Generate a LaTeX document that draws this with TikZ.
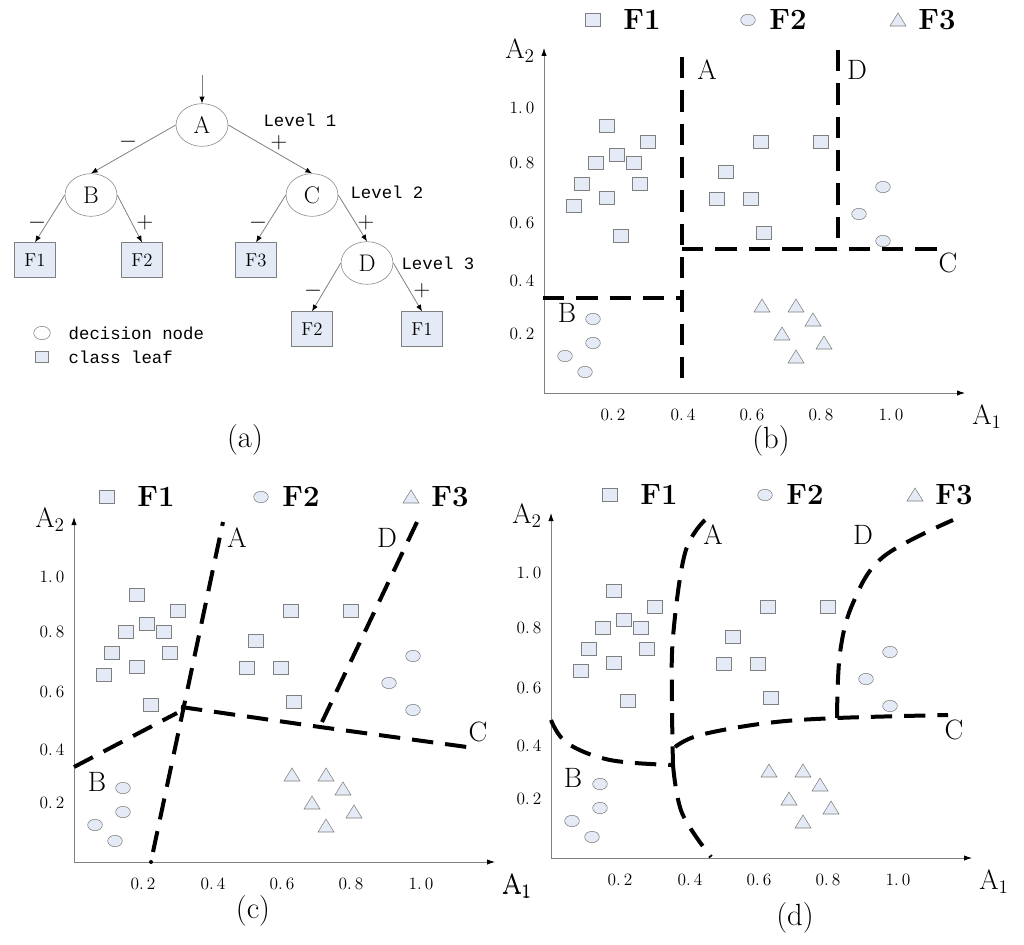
\documentclass[tikz,border=0pt]{standalone}
\usepackage{fontspec}
\newfontfamily\monof{Liberation Mono}
\usetikzlibrary{shapes.geometric,arrows.meta}
\definecolor{leaf}{HTML}{E4EBF6}
\definecolor{edgeg}{HTML}{808080}
\tikzset{
  dnode/.style={ellipse,draw=edgeg,minimum width=39pt,minimum height=32pt,inner sep=0,font=\fontsize{18}{18}\selectfont},
  cleaf/.style={rectangle,draw=edgeg,fill=leaf,minimum width=31pt,minimum height=26pt,inner sep=0,font=\fontsize{14}{14}\selectfont},
  tedge/.style={draw=edgeg,line width=0.6pt,-{Latex[length=5pt,width=4pt,color=black]}},
  sgn/.style={font=\fontsize{16}{16}\selectfont},
  lvl/.style={font=\monof\fontsize{13}{13}\selectfont},
  sq/.style={rectangle,draw=edgeg,fill=leaf,minimum width=11.5pt,minimum height=10pt,inner sep=0},
  ci/.style={ellipse,draw=edgeg,fill=leaf,minimum width=11pt,minimum height=8.5pt,inner sep=0},
  tri/.style={draw=edgeg,fill=leaf},
  bnd/.style={line width=3pt,dash pattern=on 16pt off 9pt,line cap=butt},
  blab/.style={font=\fontsize{21}{21}\selectfont},
  tick/.style={font=\fontsize{13}{13}\selectfont},
  leg/.style={font=\bfseries\fontsize{22}{22}\selectfont},
  axis/.style={draw=gray,line width=0.6pt,-{Latex[length=6pt,width=4pt,color=black]}},
  plab/.style={font=\fontsize{23}{23}\selectfont}
}
\newcommand{\myplot}{%
  \draw[axis] (0,0) -- (0,-345);
  \draw[axis] (0,0) -- (421,0);
  \foreach \x/\a/\b in {69/0/2,139/0/4,208/0/6,277/0/8,347/1/0}
    \node[tick] at (\x,22) {\a.\,\b};
  \foreach \y/\a/\b in {-285/1/0,-230/0/8,-170/0/6,-112/0/4,-59/0/2}
    \node[tick] at (-22,\y) {\a.\,\b};
  \node[blab] (a2) at (-24,-342) {A$_2$};
  \node[blab] (a1) at (443,24) {A$_1$};
  \foreach \x/\y in {63/-267,104/-251,52/-230,73/-238,90/-230,38/-209,96/-209,63/-195,30/-187,77/-157,217/-251,277/-251,182/-221,173/-194,207/-194,220/-160}
    \node[sq] at (\x,\y) {};
  \foreach \x/\y in {339/-206,315/-179,339/-152,49/-74,49/-50,21/-37,41/-21}
    \node[ci] at (\x,\y) {};
  \foreach \x/\y in {218/-87,252/-87,269/-73,238/-59,280/-50,252/-36}
    \draw[tri] (\x-8,\y+6) -- (\x+8,\y+6) -- (\x,\y-7) -- cycle;
}
\newcommand{\legend}[3]{%
  \node[sq] at (#1,#3) {};
  \node[leg] at (#1+49,#3) {F1};
  \node[ci] at (#2,#3) {};
  \node[leg] at (#2+40,#3) {F2};
  \draw[tri] (#2+142,#3+6) -- (#2+158,#3+6) -- (#2+150,#3-7) -- cycle;
  \node[leg] at (#2+189,#3) {F3};
}
\begin{document}
\begin{tikzpicture}[x=0.75pt,y=-0.75pt]
\useasboundingbox[fill=white] (0,0) rectangle (1024,945);
% ---------- (a) tree
\coordinate (top) at (202,75);
\node[dnode] (A) at (202,125) {A};
\node[dnode] (B) at (91,195) {B};
\node[dnode] (C) at (312,195) {C};
\node[dnode] (D) at (367,263) {D};
\node[cleaf] (f1a) at (35,260) {F1};
\node[cleaf] (f2a) at (142,260) {F2};
\node[cleaf] (f3a) at (256,260) {F3};
\node[cleaf] (f2b) at (312,329) {F2};
\node[cleaf] (f1b) at (422,329) {F1};
\draw[tedge] (top) -- (A.north);
\draw[tedge] (A.west) -- (B.north);
\draw[tedge] (A.east) -- (C.north);
\draw[tedge] (B.west) -- (f1a.north);
\draw[tedge] (B.east) -- (f2a.north);
\draw[tedge] (C.west) -- (f3a.north);
\draw[tedge] (C.east) -- (D.north);
\draw[tedge] (D.west) -- (f2b.north);
\draw[tedge] (D.east) -- (f1b.north);
\node[sgn] at (128,142) {$-$};
\node[sgn] at (279,143) {$+$};
\node[sgn] at (37,223) {$-$};
\node[sgn] at (145,223) {$+$};
\node[sgn] at (258,223) {$-$};
\node[sgn] at (366,223) {$+$};
\node[sgn] at (313,291) {$-$};
\node[sgn] at (422,291) {$+$};
\node[lvl] at (300,120) {Level 1};
\node[lvl] at (387,192) {Level 2};
\node[lvl] at (438,263) {Level 3};
\node[ellipse,draw=edgeg,minimum width=12.5pt,minimum height=10pt,inner sep=0] (lg1) at (42,333) {};
\node[rectangle,draw=edgeg,fill=leaf,minimum width=9.5pt,minimum height=8pt,inner sep=0] (lg2) at (42,357) {};
\node[lvl,anchor=west] at (64,333) {decision node};
\node[lvl,anchor=west] at (64,357) {class leaf};
\node[plab] at (245,440) {(a)};
% ---------- (b)
\legend{593}{748}{20}
\begin{scope}[shift={(544,393)}]
\myplot
\draw[bnd] (138,-336) -- (138,-10);
\draw[bnd] (294,-343) -- (294,-143);
\draw[bnd] (138,-144) -- (394,-144);
\draw[bnd] (-1,-95) -- (138,-95);
\node[blab] at (163,-323) {A};
\node[blab] at (313,-323) {D};
\node[blab] at (404,-130) {C};
\node[blab] at (23,-80) {B};
\end{scope}
\node[plab] at (771,441) {(b)};
% ---------- (c)
\legend{107}{261}{497}
\begin{scope}[shift={(74,862)}]
\myplot
\fill (77,0) circle (1.5pt);
\draw[bnd] (79,-10) -- (149,-340);
\draw[bnd] (0,-95) -- (103,-149);
\draw[bnd] (107,-155) -- (246,-135) -- (393,-115);
\draw[bnd] (248,-140) -- (343,-340);
\node[blab] at (163,-324) {A};
\node[blab] at (313,-324) {D};
\node[blab] at (404,-130) {C};
\node[blab] at (23,-80) {B};
\end{scope}
\node[plab] at (253,911) {(c)};
% ---------- (d)
\legend{610}{765}{495}
\begin{scope}[shift={(551,858)}]
\myplot
\node[blab] at (-34,29) {A$_1$};
\draw[bnd] plot[smooth,tension=0.6] coordinates {(154,-338) (134,-305) (122,-221) (121,-155) (122,-93)};
\draw[bnd] plot[smooth,tension=0.6] coordinates {(122,-93) (131,-45) (160,-1)};
\draw[bnd] plot[smooth,tension=0.6] coordinates {(0,-138) (16,-115) (59,-98) (122,-93)};
\draw[bnd] plot[smooth,tension=0.6] coordinates {(124,-111) (149,-123) (216,-135) (286,-140) (397,-143)};
\draw[bnd] plot[smooth,tension=0.6] coordinates {(286,-140) (289,-205) (302,-255) (332,-301) (402,-338)};
\node[blab] at (162,-323) {A};
\node[blab] at (312,-323) {D};
\node[blab] at (403,-128) {C};
\node[blab] at (22,-80) {B};
\end{scope}
\node[plab] at (795,918) {(d)};
\end{tikzpicture}
\end{document}
